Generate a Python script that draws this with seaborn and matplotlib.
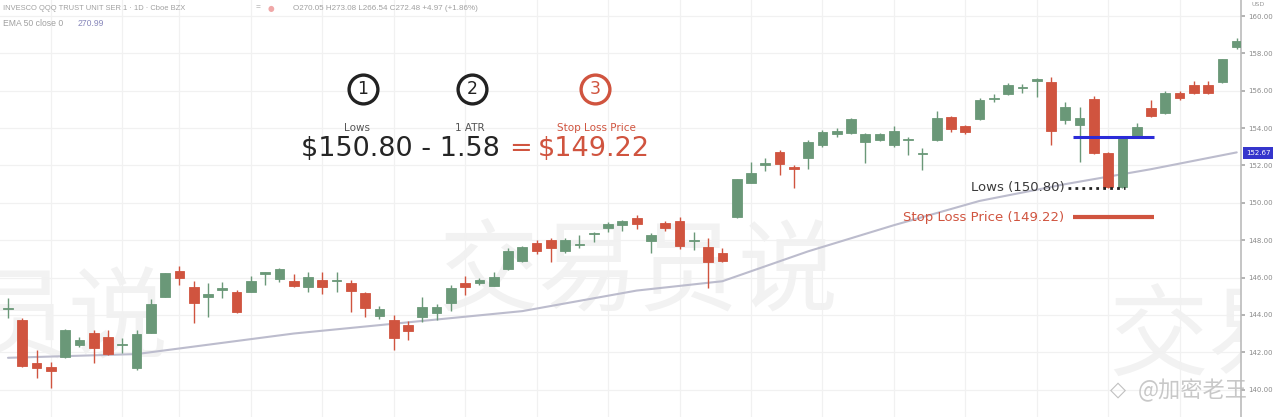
import numpy as np
import pandas as pd
import matplotlib
matplotlib.use("Agg")
import matplotlib.pyplot as plt
import seaborn as sns

# Daily candles (one entry per trading day)
opens = [144.30, 143.73, 141.41, 141.23, 141.76, 142.39, 143.01, 142.80, 142.37, 141.14,
         143.01, 144.95, 146.37, 145.51, 144.97, 145.33, 145.24, 145.24, 146.17, 145.90,
         145.81, 145.51, 145.87, 145.79, 145.72, 145.19, 143.94, 143.73, 143.46, 143.87,
         144.12, 144.65, 145.69, 145.69, 145.55, 146.46, 146.90, 147.83, 148.01, 147.44,
         147.76, 148.31, 148.63, 148.81, 149.20, 147.97, 148.90, 149.04, 147.95, 147.65,
         147.33, 149.26, 151.08, 152.02, 152.74, 151.93, 152.38, 153.09, 153.67, 153.75,
         153.27, 153.36, 153.09, 153.34, 152.63, 153.36, 154.58, 154.11, 154.47, 155.56,
         155.82, 156.14, 156.54, 156.45, 154.43, 154.17, 155.54, 152.68, 150.86, 153.58,
         155.10, 154.79, 155.86, 156.31, 156.31, 156.48, 158.32]
highs = [144.90, 143.83, 142.12, 141.49, 143.25, 142.83, 143.19, 143.19, 142.75, 143.19,
         144.85, 146.25, 146.62, 145.83, 145.69, 145.78, 145.33, 146.10, 146.31, 146.50,
         146.20, 146.31, 146.31, 146.31, 145.87, 145.24, 144.50, 143.99, 143.65, 144.97,
         144.58, 145.60, 146.10, 146.00, 146.30, 147.60, 147.70, 148.00, 148.10, 148.10,
         148.30, 148.45, 148.95, 149.10, 149.35, 148.37, 149.00, 149.25, 148.45, 148.10,
         147.60, 151.30, 152.20, 152.40, 152.85, 152.02, 153.35, 153.90, 154.00, 154.55,
         153.72, 153.72, 154.10, 153.54, 152.92, 154.90, 154.65, 154.17, 155.60, 155.80,
         156.40, 156.35, 156.66, 156.75, 155.40, 155.14, 155.70, 152.70, 153.50, 154.30,
         155.50, 156.00, 156.00, 156.50, 156.50, 157.72, 158.80]
lows = [143.83, 141.23, 140.62, 140.07, 141.70, 142.30, 141.41, 141.85, 141.94, 141.05,
        143.01, 144.95, 145.60, 143.55, 143.90, 144.89, 144.10, 145.24, 145.60, 145.75,
        145.51, 145.24, 145.10, 145.24, 144.17, 143.90, 143.80, 142.12, 142.65, 143.64,
        143.70, 144.20, 145.05, 145.60, 145.55, 146.40, 146.85, 147.25, 146.85, 147.30,
        147.60, 147.90, 148.45, 148.50, 148.60, 147.30, 148.50, 147.50, 147.47, 145.42,
        146.85, 149.20, 151.05, 151.70, 151.50, 150.78, 151.80, 153.00, 153.55, 153.70,
        152.11, 153.30, 153.00, 152.56, 151.76, 153.30, 153.80, 153.70, 154.43, 155.40,
        155.75, 155.90, 155.68, 153.09, 154.20, 152.20, 152.60, 150.80, 150.80, 153.55,
        154.60, 154.75, 155.50, 155.80, 155.80, 156.40, 158.25]
closes = [144.33, 141.26, 141.17, 141.00, 143.19, 142.66, 142.21, 141.89, 142.41, 142.96,
          144.58, 146.23, 145.96, 144.62, 145.10, 145.42, 144.17, 145.83, 146.27, 146.44,
          145.53, 146.04, 145.51, 145.83, 145.29, 144.35, 144.31, 142.75, 143.15, 144.41,
          144.41, 145.46, 145.48, 145.87, 146.01, 147.44, 147.65, 147.44, 147.56, 148.01,
          147.82, 148.40, 148.85, 149.03, 148.84, 148.28, 148.67, 147.69, 147.98, 146.85,
          146.90, 151.26, 151.58, 152.15, 152.08, 151.79, 153.27, 153.81, 153.86, 154.47,
          153.68, 153.68, 153.86, 153.38, 152.67, 154.52, 153.93, 153.81, 155.50, 155.63,
          156.31, 156.18, 156.61, 153.86, 155.14, 154.52, 152.65, 150.86, 153.45, 154.04,
          154.65, 155.90, 155.59, 155.90, 155.86, 157.68, 158.68]

# EMA 50 line, sampled at a few bars
ema_idx = [0, 9, 14, 20, 28, 36, 44, 50, 56, 62, 68, 74, 80, 86]
ema_val = [141.70, 141.90, 142.40, 143.00, 143.60, 144.20, 145.30, 145.80,
           147.40, 148.80, 150.10, 151.00, 151.80, 152.70]
ema_last = 152.67

price_ticks = [140, 142, 144, 146, 148, 150, 152, 154, 156, 158, 160]

# stop loss annotation values
low_price = 150.80
atr = 1.58
stop_price = 149.22
blue_level = 153.54
low_bar = 77

GREEN = "#6a9878"
RED = "#d0543f"

W, H = 1274, 417
AX_W = 1241

sns.set_theme(style="white")
plt.rcParams["font.family"] = ["DejaVu Sans", "Noto Sans CJK SC"]

fig = plt.figure(figsize=(W / 100, H / 100), dpi=100)
ax = fig.add_axes([0, 0, AX_W / W, 1])


def fr(px, py):
    # pixel position in the picture -> axes fraction
    return px / AX_W, 1 - py / H


df = pd.DataFrame({"open": opens, "high": highs, "low": lows, "close": closes})
df["i"] = np.arange(len(df))
df["up"] = df["close"] >= df["open"]
df["color"] = np.where(df["up"], GREEN, RED)
df["bottom"] = df[["open", "close"]].min(axis=1)
df["height"] = (df["close"] - df["open"]).abs().clip(lower=0.05)

# grid
ax.set_yticks(price_ticks)
ax.set_xticks([3, 8, 12, 17, 22, 27, 32, 37, 42, 47, 52, 57, 62, 67, 72, 77, 82])
ax.grid(True, color="#f1f1f1", lw=0.9)
ax.set_axisbelow(True)

# watermarks
wm = dict(family=["Noto Sans CJK SC"], fontsize=72, color="#000000", alpha=0.05,
          transform=ax.transAxes, va="center", clip_on=True, zorder=0)
ax.text(*fr(638, 275), "交易员说", ha="center", **wm)
ax.text(*fr(168, 322), "交易员说", ha="right", **wm)
ax.text(*fr(1108, 340), "交易员说", ha="left", **wm)

# EMA
sns.lineplot(x=ema_idx, y=ema_val, ax=ax, color="#bcbccd", lw=1.5, zorder=1)

# candles
ax.vlines(df["i"], df["low"], df["high"], colors=df["color"], lw=1.0, zorder=2)
ax.bar(df["i"], df["height"], bottom=df["bottom"], width=0.68,
       color=df["color"], edgecolor=df["color"], lw=0.6, zorder=3)

# annotation lines near the low
ax.hlines(low_price, low_bar - 2.8, low_bar + 1.2, colors="#222222", lw=2,
          linestyles=(0, (1, 1.5)), zorder=4)
ax.text(low_bar - 3.05, low_price, f"Lows ({low_price:.2f})", ha="right", va="center",
        fontsize=9.5, color="#3a3a3a", zorder=4)
ax.hlines(stop_price, low_bar - 2.45, low_bar + 3.2, colors=RED, lw=3, zorder=4)
ax.text(low_bar - 3.05, stop_price, f"Stop Loss Price ({stop_price:.2f})", ha="right",
        va="center", fontsize=9.5, color=RED, zorder=4)
ax.hlines(blue_level, low_bar - 2.45, low_bar + 3.2, colors="#2b2bd8", lw=2.2, zorder=4)

# formula block
for k, (px, c) in enumerate([(363, "#222222"), (472, "#222222"), (595, RED)]):
    x, y = fr(px, 89)
    ax.scatter([x], [y], s=430, facecolor="white", edgecolor=c, lw=2.4,
               transform=ax.transAxes, zorder=5)
    ax.text(x, y, str(k + 1), ha="center", va="center", fontsize=12.5,
            color=c, transform=ax.transAxes, zorder=6)
ax.text(*fr(357, 128), "Lows", ha="center", va="center", fontsize=7.5,
        color="#555555", transform=ax.transAxes)
ax.text(*fr(470, 128), "1 ATR", ha="center", va="center", fontsize=7.5,
        color="#555555", transform=ax.transAxes)
ax.text(*fr(596, 128), "Stop Loss Price", ha="center", va="center", fontsize=7.5,
        color=RED, transform=ax.transAxes)
ax.text(*fr(400, 149), f"\\${low_price:.2f} - {atr:.2f}", ha="center", va="center",
        fontsize=19.5, color="#252525", transform=ax.transAxes)
ax.text(*fr(520, 149), "=", ha="center", va="center", fontsize=19.5, color=RED,
        transform=ax.transAxes)
ax.text(*fr(594, 149), f"\\${stop_price:.2f}", ha="center", va="center",
        fontsize=19.5, color=RED, transform=ax.transAxes)

# axes / price scale
ax.set_xlim(-0.56, 86.3)
ax.set_ylim(138.53, 160.86)
ax.yaxis.tick_right()
ax.set_yticklabels([f"{t:.2f}" for t in price_ticks])
ax.tick_params(axis="y", labelsize=5, labelcolor="#8a8a8a", length=3, color="#aaaaaa",
               pad=2, right=True)
ax.tick_params(axis="x", length=0, labelbottom=False)
for s in ["left", "top", "bottom"]:
    ax.spines[s].set_visible(False)
ax.spines["right"].set_color("#bbbbbb")
ax.spines["right"].set_linewidth(1.2)

fig.text(1258 / W, 1 - 153 / H, f"{ema_last:.2f}", ha="center", va="center",
         fontsize=5, color="white",
         bbox=dict(boxstyle="square,pad=0.4", fc="#3535cc", ec="none"))
fig.text(1258 / W, 1 - 5 / H, "USD", ha="center", va="center", fontsize=4.5,
         color="#999999")

# header
hdr = dict(color="#a0a0a0", va="center", family=["Liberation Sans"])
fig.text(3 / W, 1 - 8 / H, "INVESCO QQQ TRUST UNIT SER 1 · 1D · Cboe BZX",
         fontsize=5.4, **hdr)
fig.text(256 / W, 1 - 8 / H, "=", fontsize=6, **hdr)
fig.text(268 / W, 1 - 8 / H, "●", fontsize=5.5, color="#f0a8a8", va="center")
fig.text(293 / W, 1 - 8 / H, "O270.05 H273.08 L266.54 C272.48 +4.97 (+1.86%)",
         fontsize=5.8, **hdr)
fig.text(3 / W, 1 - 23 / H, "EMA 50 close 0", fontsize=6.2, **hdr)
fig.text(78 / W, 1 - 23 / H, "270.99", fontsize=6.2, color="#8888bb", va="center",
         family=["Liberation Sans"])

# corner watermark
fig.text(1118 / W, 1 - 390 / H, "◇", fontsize=15, color="#c0c0c0", ha="center",
         va="center", family=["DejaVu Sans"])
fig.text(1138 / W, 1 - 390 / H, "@加密老王", fontsize=16, color="#bbbbbb", alpha=0.8,
         va="center", family=["Noto Sans CJK SC", "DejaVu Sans"])

fig.savefig("out.png", dpi=100)
